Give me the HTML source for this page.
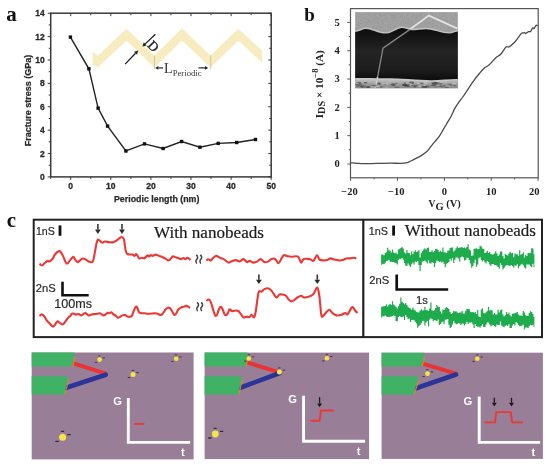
<!DOCTYPE html>
<html><head><meta charset="utf-8"><title>Figure</title>
<style>html,body{margin:0;padding:0;background:#fff;}svg{display:block;will-change:transform;filter:blur(0.4px);}</style></head>
<body><svg width="550" height="465" viewBox="0 0 550 465">
<defs>
<linearGradient id="bt" x1="0" y1="0" x2="0" y2="1"><stop offset="0" stop-color="#c4c4c4"/><stop offset="0.35" stop-color="#b0b0b0"/><stop offset="0.6" stop-color="#999"/><stop offset="1" stop-color="#8a8a8a"/></linearGradient>
<linearGradient id="dk" x1="0" y1="0" x2="0" y2="1"><stop offset="0" stop-color="#0c0c0c"/><stop offset="0.45" stop-color="#242424"/><stop offset="0.8" stop-color="#1c1c1c"/><stop offset="1" stop-color="#0a0a0a"/></linearGradient>
<filter id="noise" x="0" y="0" width="1" height="1"><feTurbulence type="fractalNoise" baseFrequency="1.6" numOctaves="1" seed="3"/><feColorMatrix type="saturate" values="0"/><feComponentTransfer><feFuncA type="linear" slope="0" intercept="1"/></feComponentTransfer></filter>
<filter id="noise2" x="0" y="0" width="1" height="1"><feTurbulence type="fractalNoise" baseFrequency="0.25 0.6" numOctaves="2" seed="5"/><feColorMatrix type="saturate" values="0"/><feComponentTransfer><feFuncR type="linear" slope="2.2" intercept="-0.7"/><feFuncG type="linear" slope="2.2" intercept="-0.7"/><feFuncB type="linear" slope="2.2" intercept="-0.7"/><feFuncA type="linear" slope="0" intercept="1"/></feComponentTransfer></filter>
</defs>
<rect width="550" height="465" fill="#fff"/>
<text x="6.3" y="21" font-family="'Liberation Serif', serif" font-weight="bold" font-size="21" fill="#111">a</text>
<polygon points="92.6,51.8 98,55.5 126.5,28.4 154.5,55.6 182,28.2 210.5,55.6 238.3,28.4 262.2,50.8 262.2,62.8 238.3,40.8 210.5,67.6 182,40.6 154.5,67.6 126.5,40.8 98,67.2 92.6,64.9" fill="#f7ecc0"/>
<line x1="154.5" y1="55.5" x2="154.5" y2="69.5" stroke="#b8ad8a" stroke-width="0.6"/>
<line x1="210.7" y1="55.5" x2="210.7" y2="69.5" stroke="#b8ad8a" stroke-width="0.6"/>
<rect x="50.7" y="13.2" width="220.5" height="163.70000000000002" fill="none" stroke="#3a3a3a" stroke-width="1.5"/>
<path d="M47.7,176.90H50.7M268.2,176.90H271.2M48.7,165.21H50.7M269.2,165.21H271.2M47.7,153.52H50.7M268.2,153.52H271.2M48.7,141.83H50.7M269.2,141.83H271.2M47.7,130.14H50.7M268.2,130.14H271.2M48.7,118.45H50.7M269.2,118.45H271.2M47.7,106.76H50.7M268.2,106.76H271.2M48.7,95.07H50.7M269.2,95.07H271.2M47.7,83.38H50.7M268.2,83.38H271.2M48.7,71.69H50.7M269.2,71.69H271.2M47.7,60.00H50.7M268.2,60.00H271.2M48.7,48.31H50.7M269.2,48.31H271.2M47.7,36.62H50.7M268.2,36.62H271.2M48.7,24.93H50.7M269.2,24.93H271.2M47.7,13.24H50.7M268.2,13.24H271.2M50.65,176.9V178.9M50.65,13.2V15.2M70.70,176.9V179.9M70.70,13.2V16.2M90.75,176.9V178.9M90.75,13.2V15.2M110.80,176.9V179.9M110.80,13.2V16.2M130.85,176.9V178.9M130.85,13.2V15.2M150.90,176.9V179.9M150.90,13.2V16.2M170.95,176.9V178.9M170.95,13.2V15.2M191.00,176.9V179.9M191.00,13.2V16.2M211.05,176.9V178.9M211.05,13.2V15.2M231.10,176.9V179.9M231.10,13.2V16.2M251.15,176.9V178.9M251.15,13.2V15.2M271.20,176.9V179.9M271.20,13.2V16.2" stroke="#3a3a3a" stroke-width="1"/>
<text x="44.8" y="180.00" text-anchor="end" font-family="'Liberation Sans', sans-serif" font-weight="bold" font-size="8.5" fill="#2a2a2a" stroke="#2a2a2a" stroke-width="0.3">0</text>
<text x="44.8" y="156.62" text-anchor="end" font-family="'Liberation Sans', sans-serif" font-weight="bold" font-size="8.5" fill="#2a2a2a" stroke="#2a2a2a" stroke-width="0.3">2</text>
<text x="44.8" y="133.24" text-anchor="end" font-family="'Liberation Sans', sans-serif" font-weight="bold" font-size="8.5" fill="#2a2a2a" stroke="#2a2a2a" stroke-width="0.3">4</text>
<text x="44.8" y="109.86" text-anchor="end" font-family="'Liberation Sans', sans-serif" font-weight="bold" font-size="8.5" fill="#2a2a2a" stroke="#2a2a2a" stroke-width="0.3">6</text>
<text x="44.8" y="86.48" text-anchor="end" font-family="'Liberation Sans', sans-serif" font-weight="bold" font-size="8.5" fill="#2a2a2a" stroke="#2a2a2a" stroke-width="0.3">8</text>
<text x="44.8" y="63.10" text-anchor="end" font-family="'Liberation Sans', sans-serif" font-weight="bold" font-size="8.5" fill="#2a2a2a" stroke="#2a2a2a" stroke-width="0.3">10</text>
<text x="44.8" y="39.72" text-anchor="end" font-family="'Liberation Sans', sans-serif" font-weight="bold" font-size="8.5" fill="#2a2a2a" stroke="#2a2a2a" stroke-width="0.3">12</text>
<text x="44.8" y="16.34" text-anchor="end" font-family="'Liberation Sans', sans-serif" font-weight="bold" font-size="8.5" fill="#2a2a2a" stroke="#2a2a2a" stroke-width="0.3">14</text>
<text x="70.70" y="189.2" text-anchor="middle" font-family="'Liberation Sans', sans-serif" font-weight="bold" font-size="8.5" fill="#2a2a2a" stroke="#2a2a2a" stroke-width="0.3">0</text>
<text x="110.80" y="189.2" text-anchor="middle" font-family="'Liberation Sans', sans-serif" font-weight="bold" font-size="8.5" fill="#2a2a2a" stroke="#2a2a2a" stroke-width="0.3">10</text>
<text x="150.90" y="189.2" text-anchor="middle" font-family="'Liberation Sans', sans-serif" font-weight="bold" font-size="8.5" fill="#2a2a2a" stroke="#2a2a2a" stroke-width="0.3">20</text>
<text x="191.00" y="189.2" text-anchor="middle" font-family="'Liberation Sans', sans-serif" font-weight="bold" font-size="8.5" fill="#2a2a2a" stroke="#2a2a2a" stroke-width="0.3">30</text>
<text x="231.10" y="189.2" text-anchor="middle" font-family="'Liberation Sans', sans-serif" font-weight="bold" font-size="8.5" fill="#2a2a2a" stroke="#2a2a2a" stroke-width="0.3">40</text>
<text x="271.20" y="189.2" text-anchor="middle" font-family="'Liberation Sans', sans-serif" font-weight="bold" font-size="8.5" fill="#2a2a2a" stroke="#2a2a2a" stroke-width="0.3">50</text>
<text x="156.7" y="201.7" text-anchor="middle" font-family="'Liberation Sans', sans-serif" font-weight="bold" font-size="8.85" fill="#2a2a2a" stroke="#2a2a2a" stroke-width="0.25">Periodic length (nm)</text>
<text transform="translate(31.2,100.6) rotate(-90)" text-anchor="middle" font-family="'Liberation Sans', sans-serif" font-weight="bold" font-size="9" fill="#2a2a2a" stroke="#2a2a2a" stroke-width="0.25">Fracture stress (GPa)</text>
<polyline points="70.4,37.1 88.9,68.8 98.1,108.1 107.6,126.1 125.9,151.0 144.5,143.9 163.1,148.5 181.6,141.5 199.9,147.2 218.2,143.4 236.7,142.5 255.5,139.5" fill="none" stroke="#222" stroke-width="1.4"/>
<rect x="68.70" y="35.40" width="3.4" height="3.4" fill="#111"/>
<rect x="87.20" y="67.10" width="3.4" height="3.4" fill="#111"/>
<rect x="96.40" y="106.40" width="3.4" height="3.4" fill="#111"/>
<rect x="105.90" y="124.40" width="3.4" height="3.4" fill="#111"/>
<rect x="124.20" y="149.30" width="3.4" height="3.4" fill="#111"/>
<rect x="142.80" y="142.20" width="3.4" height="3.4" fill="#111"/>
<rect x="161.40" y="146.80" width="3.4" height="3.4" fill="#111"/>
<rect x="179.90" y="139.80" width="3.4" height="3.4" fill="#111"/>
<rect x="198.20" y="145.50" width="3.4" height="3.4" fill="#111"/>
<rect x="216.50" y="141.70" width="3.4" height="3.4" fill="#111"/>
<rect x="235.00" y="140.80" width="3.4" height="3.4" fill="#111"/>
<rect x="253.80" y="137.80" width="3.4" height="3.4" fill="#111"/>
<line x1="155.4" y1="34.2" x2="145.25" y2="43.88" stroke="#222" stroke-width="1.35"/><polygon points="142.5,46.5 143.80,42.36 146.70,45.40" fill="#222"/>
<line x1="125.1" y1="64.1" x2="135.55" y2="53.33" stroke="#222" stroke-width="1.35"/><polygon points="138.2,50.6 137.06,54.79 134.05,51.86" fill="#222"/>
<text transform="translate(153.3,46.2) rotate(45)" text-anchor="middle" dominant-baseline="central" font-family="'Liberation Serif', serif" font-size="13.5" fill="#222" stroke="#222" stroke-width="0.35">D</text>
<line x1="163" y1="67.9" x2="158.40" y2="67.90" stroke="#222" stroke-width="1.2"/><polygon points="155.2,67.9 158.40,66.10 158.40,69.70" fill="#222"/>
<line x1="198.5" y1="67.9" x2="205.00" y2="67.90" stroke="#222" stroke-width="1.2"/><polygon points="208.2,67.9 205.00,69.70 205.00,66.10" fill="#222"/>
<text x="164.0" y="72.6" font-family="'Liberation Serif', serif" font-size="14.2" fill="#333">L<tspan font-size="8.7" dy="3.1">Periodic</tspan></text>
<text x="304.3" y="21.3" font-family="'Liberation Serif', serif" font-weight="bold" font-size="19" fill="#111">b</text>
<rect x="350.5" y="8.6" width="187.70000000000005" height="169.20000000000002" fill="none" stroke="#555" stroke-width="1.2"/>
<path d="M347.3,164.00H350.5M348.7,149.84H350.5M347.3,135.68H350.5M348.7,121.52H350.5M347.3,107.36H350.5M348.7,93.20H350.5M347.3,79.04H350.5M348.7,64.88H350.5M347.3,50.72H350.5M348.7,36.56H350.5M347.3,22.40H350.5M350.60,177.8V180.8M374.04,177.8V179.4M397.48,177.8V180.8M420.91,177.8V179.4M444.35,177.8V180.8M467.79,177.8V179.4M491.23,177.8V180.8M514.66,177.8V179.4M538.10,177.8V180.8" stroke="#555" stroke-width="1"/>
<text x="339.8" y="167.40" text-anchor="end" font-family="'Liberation Serif', serif" font-weight="bold" font-size="10.5" fill="#222">0</text>
<text x="339.8" y="139.08" text-anchor="end" font-family="'Liberation Serif', serif" font-weight="bold" font-size="10.5" fill="#222">1</text>
<text x="339.8" y="110.76" text-anchor="end" font-family="'Liberation Serif', serif" font-weight="bold" font-size="10.5" fill="#222">2</text>
<text x="339.8" y="82.44" text-anchor="end" font-family="'Liberation Serif', serif" font-weight="bold" font-size="10.5" fill="#222">3</text>
<text x="339.8" y="54.12" text-anchor="end" font-family="'Liberation Serif', serif" font-weight="bold" font-size="10.5" fill="#222">4</text>
<text x="339.8" y="25.80" text-anchor="end" font-family="'Liberation Serif', serif" font-weight="bold" font-size="10.5" fill="#222">5</text>
<text x="349.40" y="194.6" text-anchor="middle" font-family="'Liberation Serif', serif" font-weight="bold" font-size="10.5" fill="#222">−20</text>
<text x="396.28" y="194.6" text-anchor="middle" font-family="'Liberation Serif', serif" font-weight="bold" font-size="10.5" fill="#222">−10</text>
<text x="444.35" y="194.6" text-anchor="middle" font-family="'Liberation Serif', serif" font-weight="bold" font-size="10.5" fill="#222">0</text>
<text x="491.23" y="194.6" text-anchor="middle" font-family="'Liberation Serif', serif" font-weight="bold" font-size="10.5" fill="#222">10</text>
<text x="534.20" y="194.6" text-anchor="middle" font-family="'Liberation Serif', serif" font-weight="bold" font-size="10.5" fill="#222">20</text>
<text x="428.5" y="206.8" font-family="'Liberation Serif', serif" font-weight="bold" font-size="9.5" fill="#222">V<tspan font-size="10.5" dy="3.5">G</tspan><tspan dy="-3.5" font-size="10.5"> (V)</tspan></text>
<text transform="translate(322.8,118.3) rotate(-90)" font-family="'Liberation Serif', serif" font-weight="bold" font-size="11.2" fill="#222">I<tspan font-size="10.2" dy="2">DS</tspan><tspan dy="-2" font-size="11.2"> × 10</tspan><tspan font-size="8.6" dy="-4.6">−8</tspan><tspan dy="4.6" font-size="11.2"> (A)</tspan></text>
<g>
<clipPath id="insclip"><rect x="355.2" y="12.1" width="102.6" height="76.1"/></clipPath>
<clipPath id="topclip"><path d="M355.2,31.4 C360,30.5 362,28.3 366.3,28.3 C372,28.3 378,32.9 385.6,32.9 C392,32.9 396,27.3 401.9,27.3 C406,27.3 408,29.6 412,29.6 C417,29.6 421,28.5 426.2,28.5 C434,28.5 441,32.9 449,32.9 C453,32.9 455,30.7 457.8,30.7 L457.8,12.1 L355.2,12.1 Z"/></clipPath>
<rect x="355.2" y="12.1" width="102.6" height="76.1" fill="#989898"/>
<rect x="355.2" y="12.1" width="102.6" height="22" fill="#fff" filter="url(#noise)" opacity="0.22" clip-path="url(#topclip)"/>
<path d="M355.2,31.4 C360,30.5 362,28.3 366.3,28.3 C372,28.3 378,32.9 385.6,32.9 C392,32.9 396,27.3 401.9,27.3 C406,27.3 408,29.6 412,29.6 C417,29.6 421,28.5 426.2,28.5 C434,28.5 441,32.9 449,32.9 C453,32.9 455,30.7 457.8,30.7 L457.8,81 L355.2,81 Z" fill="url(#dk)"/>
<path d="M355.2,31.4 C360,30.5 362,28.3 366.3,28.3 C372,28.3 378,32.9 385.6,32.9 C392,32.9 396,27.3 401.9,27.3 C406,27.3 408,29.6 412,29.6 C417,29.6 421,28.5 426.2,28.5 C434,28.5 441,32.9 449,32.9 C453,32.9 455,30.7 457.8,30.7" fill="none" stroke="#c4c4c4" stroke-width="1.4"/>
<path d="M355.2,78.8 C365,78.3 375,79.4 390,79.0 C402,78.8 416,81.2 432,81.0 C442,80.8 450,79.6 457.8,79.8 L457.8,88.2 L355.2,88.2 Z" fill="url(#bt)"/>
<g clip-path="url(#insclip)"><ellipse cx="372.7" cy="85.9" rx="2.4" ry="0.9" fill="#3c3c3c" opacity="0.44"/><ellipse cx="436.1" cy="86.5" rx="2.1" ry="1.0" fill="#3c3c3c" opacity="0.44"/><ellipse cx="356.3" cy="84.4" rx="2.3" ry="0.6" fill="#3c3c3c" opacity="0.67"/><ellipse cx="379.5" cy="83.7" rx="1.1" ry="1.3" fill="#3c3c3c" opacity="0.65"/><ellipse cx="444.4" cy="85.6" rx="1.1" ry="0.8" fill="#3c3c3c" opacity="0.55"/><ellipse cx="367.7" cy="87.2" rx="1.8" ry="0.7" fill="#3c3c3c" opacity="0.68"/><ellipse cx="368.6" cy="87.1" rx="2.0" ry="1.0" fill="#3c3c3c" opacity="0.49"/><ellipse cx="405.0" cy="83.5" rx="1.1" ry="1.2" fill="#3c3c3c" opacity="0.44"/><ellipse cx="434.8" cy="83.6" rx="3.1" ry="1.2" fill="#3c3c3c" opacity="0.65"/><ellipse cx="433.0" cy="85.4" rx="2.6" ry="0.7" fill="#3c3c3c" opacity="0.54"/><ellipse cx="439.5" cy="83.6" rx="3.0" ry="1.2" fill="#3c3c3c" opacity="0.51"/><ellipse cx="392.9" cy="84.8" rx="1.8" ry="1.3" fill="#3c3c3c" opacity="0.50"/><ellipse cx="358.7" cy="83.0" rx="2.6" ry="1.3" fill="#3c3c3c" opacity="0.55"/><ellipse cx="405.6" cy="85.2" rx="2.6" ry="0.8" fill="#3c3c3c" opacity="0.59"/><ellipse cx="412.2" cy="85.6" rx="1.4" ry="0.7" fill="#3c3c3c" opacity="0.49"/><ellipse cx="449.6" cy="84.3" rx="2.3" ry="0.8" fill="#3c3c3c" opacity="0.39"/><ellipse cx="362.6" cy="86.5" rx="2.7" ry="0.9" fill="#3c3c3c" opacity="0.62"/><ellipse cx="424.3" cy="86.9" rx="3.1" ry="0.9" fill="#3c3c3c" opacity="0.75"/><ellipse cx="453.1" cy="85.4" rx="2.9" ry="0.9" fill="#3c3c3c" opacity="0.50"/><ellipse cx="381.0" cy="86.8" rx="1.4" ry="0.6" fill="#3c3c3c" opacity="0.67"/><ellipse cx="434.2" cy="84.9" rx="2.8" ry="0.6" fill="#3c3c3c" opacity="0.45"/><ellipse cx="385.3" cy="84.6" rx="1.4" ry="0.6" fill="#3c3c3c" opacity="0.49"/><ellipse cx="446.8" cy="87.3" rx="2.6" ry="0.9" fill="#3c3c3c" opacity="0.45"/><ellipse cx="452.8" cy="85.1" rx="2.6" ry="0.6" fill="#3c3c3c" opacity="0.43"/><ellipse cx="440.7" cy="86.4" rx="2.9" ry="1.0" fill="#3c3c3c" opacity="0.52"/><ellipse cx="414.7" cy="86.7" rx="1.7" ry="1.0" fill="#3c3c3c" opacity="0.46"/><ellipse cx="433.6" cy="82.6" rx="2.5" ry="1.3" fill="#3c3c3c" opacity="0.36"/><ellipse cx="416.0" cy="85.7" rx="2.9" ry="1.0" fill="#3c3c3c" opacity="0.45"/><ellipse cx="397.0" cy="87.2" rx="3.0" ry="0.7" fill="#3c3c3c" opacity="0.39"/><ellipse cx="365.5" cy="82.7" rx="2.0" ry="0.7" fill="#3c3c3c" opacity="0.70"/><ellipse cx="422.2" cy="83.2" rx="2.2" ry="0.8" fill="#3c3c3c" opacity="0.55"/><ellipse cx="378.2" cy="83.4" rx="1.4" ry="0.9" fill="#3c3c3c" opacity="0.63"/><ellipse cx="411.6" cy="82.8" rx="2.6" ry="1.2" fill="#3c3c3c" opacity="0.66"/><ellipse cx="435.9" cy="82.6" rx="2.0" ry="0.6" fill="#3c3c3c" opacity="0.66"/><ellipse cx="373.7" cy="86.0" rx="1.6" ry="1.1" fill="#3c3c3c" opacity="0.48"/><ellipse cx="360.2" cy="84.5" rx="1.7" ry="1.2" fill="#3c3c3c" opacity="0.47"/><ellipse cx="406.8" cy="85.2" rx="3.1" ry="0.7" fill="#3c3c3c" opacity="0.59"/><ellipse cx="407.3" cy="86.1" rx="3.1" ry="0.8" fill="#3c3c3c" opacity="0.63"/><ellipse cx="409.1" cy="85.3" rx="1.1" ry="1.2" fill="#3c3c3c" opacity="0.74"/><ellipse cx="391.9" cy="84.1" rx="3.2" ry="0.7" fill="#3c3c3c" opacity="0.38"/><ellipse cx="363.4" cy="86.5" rx="2.7" ry="0.9" fill="#3c3c3c" opacity="0.60"/><ellipse cx="358.0" cy="85.7" rx="2.0" ry="1.0" fill="#3c3c3c" opacity="0.51"/><ellipse cx="396.6" cy="83.7" rx="1.1" ry="0.9" fill="#3c3c3c" opacity="0.45"/><ellipse cx="427.1" cy="86.5" rx="2.6" ry="0.9" fill="#3c3c3c" opacity="0.44"/><ellipse cx="394.9" cy="84.9" rx="2.4" ry="1.3" fill="#3c3c3c" opacity="0.38"/><ellipse cx="404.5" cy="85.0" rx="2.6" ry="1.2" fill="#3c3c3c" opacity="0.66"/><ellipse cx="419.3" cy="86.1" rx="2.0" ry="0.9" fill="#d0d0d0" opacity="0.51"/><ellipse cx="425.0" cy="83.0" rx="2.4" ry="0.7" fill="#d0d0d0" opacity="0.48"/><ellipse cx="439.3" cy="87.3" rx="2.5" ry="0.5" fill="#d0d0d0" opacity="0.39"/><ellipse cx="387.5" cy="83.8" rx="1.2" ry="0.8" fill="#d0d0d0" opacity="0.32"/><ellipse cx="386.6" cy="87.2" rx="2.1" ry="0.7" fill="#d0d0d0" opacity="0.33"/><ellipse cx="452.6" cy="85.7" rx="1.3" ry="0.7" fill="#d0d0d0" opacity="0.49"/><ellipse cx="424.8" cy="83.1" rx="2.4" ry="0.7" fill="#d0d0d0" opacity="0.38"/><ellipse cx="441.4" cy="82.4" rx="2.0" ry="0.6" fill="#d0d0d0" opacity="0.48"/><ellipse cx="384.0" cy="83.8" rx="2.4" ry="0.7" fill="#d0d0d0" opacity="0.43"/><ellipse cx="418.3" cy="83.2" rx="1.3" ry="0.7" fill="#d0d0d0" opacity="0.38"/><ellipse cx="375.0" cy="87.3" rx="1.1" ry="0.9" fill="#d0d0d0" opacity="0.58"/><ellipse cx="427.2" cy="81.6" rx="1.8" ry="0.5" fill="#d0d0d0" opacity="0.48"/><ellipse cx="426.7" cy="82.9" rx="1.0" ry="0.8" fill="#d0d0d0" opacity="0.33"/><ellipse cx="387.2" cy="84.2" rx="2.3" ry="0.7" fill="#d0d0d0" opacity="0.34"/><ellipse cx="436.0" cy="86.4" rx="1.8" ry="0.5" fill="#d0d0d0" opacity="0.36"/><ellipse cx="396.7" cy="84.8" rx="1.3" ry="0.9" fill="#d0d0d0" opacity="0.55"/><ellipse cx="449.4" cy="86.8" rx="1.0" ry="0.8" fill="#d0d0d0" opacity="0.32"/><ellipse cx="446.9" cy="86.0" rx="2.1" ry="0.6" fill="#d0d0d0" opacity="0.32"/><ellipse cx="438.3" cy="85.1" rx="1.9" ry="0.7" fill="#d0d0d0" opacity="0.54"/><ellipse cx="390.1" cy="83.1" rx="1.5" ry="0.6" fill="#d0d0d0" opacity="0.49"/><ellipse cx="445.9" cy="81.9" rx="1.1" ry="0.8" fill="#d0d0d0" opacity="0.50"/><ellipse cx="375.2" cy="83.1" rx="1.1" ry="0.5" fill="#d0d0d0" opacity="0.45"/><ellipse cx="424.8" cy="85.4" rx="1.2" ry="0.6" fill="#d0d0d0" opacity="0.58"/><ellipse cx="410.4" cy="84.0" rx="2.0" ry="0.9" fill="#d0d0d0" opacity="0.46"/><ellipse cx="363.9" cy="86.5" rx="1.3" ry="0.5" fill="#d0d0d0" opacity="0.41"/><ellipse cx="409.8" cy="85.3" rx="1.3" ry="0.9" fill="#d0d0d0" opacity="0.45"/><ellipse cx="372.4" cy="86.6" rx="2.2" ry="1.0" fill="#d0d0d0" opacity="0.50"/><ellipse cx="377.9" cy="86.2" rx="2.4" ry="0.8" fill="#d0d0d0" opacity="0.57"/><ellipse cx="454.0" cy="83.8" rx="2.4" ry="1.0" fill="#d0d0d0" opacity="0.54"/><ellipse cx="357.1" cy="83.6" rx="1.9" ry="0.8" fill="#d0d0d0" opacity="0.53"/></g>
<path d="M355.2,78.8 C365,78.3 375,79.4 390,79.0 C402,78.8 416,81.2 432,81.0 C442,80.8 450,79.6 457.8,79.8" fill="none" stroke="#c6c6c6" stroke-width="1.6"/>
<polyline points="375.9,86 383,48.2 410.4,29.1 428.9,15.6 457.6,28.6" fill="none" stroke="#868686" stroke-width="1.3"/>
<polyline points="375.9,86 383,48.2 410.4,29.1 428.9,15.6 457.6,28.6" fill="none" stroke="#e2e2e2" stroke-width="1.8" clip-path="url(#topclip)"/>
<line x1="376.2" y1="84.5" x2="377.6" y2="77" stroke="#cfcfcf" stroke-width="1.6"/>
</g>
<path d="M350.6,162.8C351.67,162.88 354.77,163.15 357,163.3C359.23,163.45 360.67,163.68 364,163.7C367.33,163.72 372.67,163.48 377,163.4C381.33,163.32 385.50,163.23 390,163.2C394.50,163.17 400.83,163.42 404,163.2C407.17,162.98 407.40,162.50 409,161.9C410.60,161.30 411.68,160.57 413.6,159.6C415.52,158.63 418.35,157.40 420.5,156.1C422.65,154.80 424.78,153.38 426.5,151.8C428.22,150.22 429.37,148.35 430.8,146.6C432.23,144.85 433.67,143.05 435.1,141.3C436.53,139.55 438.12,137.93 439.4,136.1C440.68,134.27 441.57,132.38 442.8,130.3C444.03,128.22 445.43,125.90 446.8,123.6C448.17,121.30 449.68,119.00 451,116.5C452.32,114.00 453.45,110.92 454.7,108.6C455.95,106.28 457.17,104.53 458.5,102.6C459.83,100.67 460.92,99.53 462.7,97.0C464.48,94.47 467.32,90.18 469.2,87.4C471.08,84.62 472.30,82.62 474,80.3C475.70,77.98 477.72,75.50 479.4,73.5C481.08,71.50 482.57,69.67 484.1,68.3C485.63,66.93 487.33,66.32 488.6,65.3C489.87,64.28 490.50,63.47 491.7,62.2C492.90,60.93 494.27,59.07 495.8,57.7C497.33,56.33 499.20,55.80 500.9,54C502.60,52.20 504.65,48.08 506,46.9C507.35,45.72 507.65,47.58 509,46.9C510.35,46.22 512.57,44.33 514.1,42.8C515.63,41.27 517.00,39.23 518.2,37.7C519.40,36.17 520.27,34.45 521.3,33.6C522.33,32.75 523.65,32.60 524.4,32.6C525.15,32.60 525.12,33.77 525.8,33.6C526.48,33.43 527.72,31.93 528.5,31.6C529.28,31.27 529.83,32.22 530.5,31.6C531.17,30.98 531.92,28.42 532.5,27.9C533.08,27.38 533.42,28.92 534,28.5C534.58,28.08 535.40,25.85 536,25.4C536.60,24.95 537.33,25.73 537.6,25.8" fill="none" stroke="#4a4a4a" stroke-width="1.3"/>
<text x="6.8" y="226.8" font-family="'Liberation Serif', serif" font-weight="bold" font-size="21" fill="#111">c</text>
<rect x="33.7" y="219.7" width="508.3" height="117.4" fill="none" stroke="#222" stroke-width="2"/>
<line x1="363.3" y1="219.7" x2="363.3" y2="337.1" stroke="#222" stroke-width="2.2"/>
<text x="154.0" y="237.6" font-family="'Liberation Serif', serif" font-size="17.1" fill="#1a1a1a" stroke="#1a1a1a" stroke-width="0.2">With nanobeads</text>
<text x="404.8" y="235.7" font-family="'Liberation Serif', serif" font-size="17.0" fill="#1a1a1a" stroke="#1a1a1a" stroke-width="0.2">Without nanobeads</text>
<text x="35.9" y="234.9" font-family="'Liberation Sans', sans-serif" font-size="10.6" fill="#2a2a2a" stroke="#2a2a2a" stroke-width="0.2">1nS</text>
<rect x="58.6" y="225.4" width="2.8" height="10.4" fill="#111"/>
<text x="35.7" y="292.4" font-family="'Liberation Sans', sans-serif" font-size="11.2" fill="#2a2a2a" stroke="#2a2a2a" stroke-width="0.2">2nS</text>
<path d="M62.5,281.8 V295.3 H88.7" fill="none" stroke="#111" stroke-width="2.6"/>
<text x="54.2" y="308.2" font-family="'Liberation Sans', sans-serif" font-size="12.6" fill="#2a2a2a" stroke="#2a2a2a" stroke-width="0.2">100ms</text>
<text x="368.7" y="235.2" font-family="'Liberation Sans', sans-serif" font-size="10.8" fill="#2a2a2a" stroke="#2a2a2a" stroke-width="0.2">1nS</text>
<rect x="392.2" y="225.6" width="2.8" height="10" fill="#111"/>
<text x="369.3" y="284.3" font-family="'Liberation Sans', sans-serif" font-size="11.2" fill="#2a2a2a" stroke="#2a2a2a" stroke-width="0.2">2nS</text>
<path d="M396.7,274.4 V289.5 H448.2" fill="none" stroke="#111" stroke-width="2.7"/>
<text x="416.1" y="303.7" font-family="'Liberation Sans', sans-serif" font-size="11.2" fill="#2a2a2a" stroke="#2a2a2a" stroke-width="0.2">1s</text>
<path d="M39.5,263.6C39.90,263.92 40.98,265.65 41.9,265.5C42.82,265.35 44.03,263.47 45,262.7C45.97,261.93 46.95,261.10 47.7,260.9C48.45,260.70 48.73,261.80 49.5,261.5C50.27,261.20 51.38,260.27 52.3,259.1C53.22,257.93 53.95,255.80 55,254.5C56.05,253.20 57.68,251.75 58.6,251.3C59.52,250.85 59.73,250.95 60.5,251.8C61.27,252.65 62.30,254.58 63.2,256.4C64.10,258.22 65.15,261.55 65.9,262.7C66.65,263.85 67.10,263.60 67.7,263.3C68.30,263.00 68.58,261.97 69.5,260.9C70.42,259.83 72.22,257.05 73.2,256.9C74.18,256.75 74.65,259.12 75.4,260C76.15,260.88 77.02,262.05 77.7,262.2C78.38,262.35 78.68,261.52 79.5,260.9C80.32,260.28 81.53,258.72 82.6,258.5C83.67,258.28 84.75,259.05 85.9,259.6C87.05,260.15 88.35,261.48 89.5,261.8C90.65,262.12 91.95,262.87 92.8,261.5C93.65,260.13 93.98,256.58 94.6,253.6C95.22,250.62 95.98,245.93 96.5,243.6C97.02,241.27 97.20,240.13 97.7,239.6C98.20,239.07 98.73,239.88 99.5,240.4C100.27,240.92 101.38,242.52 102.3,242.7C103.22,242.88 103.80,241.58 105,241.5C106.20,241.42 108.13,242.08 109.5,242.2C110.87,242.32 111.98,242.50 113.2,242.2C114.42,241.90 115.58,241.22 116.8,240.4C118.02,239.58 119.58,237.82 120.5,237.3C121.42,236.78 121.70,236.85 122.3,237.3C122.90,237.75 123.58,238.03 124.1,240C124.62,241.97 124.95,246.83 125.4,249.1C125.85,251.37 126.12,252.70 126.8,253.6C127.48,254.50 128.52,254.33 129.5,254.5C130.48,254.67 131.87,254.37 132.7,254.6C133.53,254.83 133.88,255.98 134.5,255.9C135.12,255.82 135.63,253.70 136.4,254.1C137.17,254.50 138.20,257.70 139.1,258.3C140.00,258.90 140.90,257.70 141.8,257.7C142.70,257.70 143.58,258.68 144.5,258.3C145.42,257.92 146.53,255.70 147.3,255.4C148.07,255.10 148.50,256.57 149.1,256.5C149.70,256.43 150.30,255.10 150.9,255C151.50,254.90 151.93,255.97 152.7,255.9C153.47,255.83 154.43,254.60 155.5,254.6C156.57,254.60 157.90,255.47 159.1,255.9C160.30,256.33 161.63,256.75 162.7,257.2C163.77,257.65 164.58,258.05 165.5,258.6C166.42,259.15 167.45,260.35 168.2,260.5C168.95,260.65 169.25,260.17 170,259.5C170.75,258.83 171.78,256.88 172.7,256.5C173.62,256.12 174.58,256.93 175.5,257.2C176.42,257.47 177.30,257.80 178.2,258.1C179.10,258.40 180.00,259.00 180.9,259C181.80,259.00 182.83,258.07 183.6,258.1C184.37,258.13 184.88,259.27 185.5,259.2C186.12,259.13 186.70,257.80 187.3,257.7C187.90,257.60 188.58,258.20 189.1,258.6C189.62,259.00 190.18,259.85 190.4,260.1" fill="none" stroke="#eb3835" stroke-width="2.1" stroke-linejoin="round"/>
<path d="M206.4,260.5C206.70,260.28 207.45,259.20 208.2,259.2C208.95,259.20 210.15,260.65 210.9,260.5C211.65,260.35 212.10,258.92 212.7,258.3C213.30,257.68 213.88,257.20 214.5,256.8C215.12,256.40 215.63,255.83 216.4,255.9C217.17,255.97 218.35,256.80 219.1,257.2C219.85,257.60 220.30,258.07 220.9,258.3C221.50,258.53 222.02,258.30 222.7,258.6C223.38,258.90 224.00,259.43 225,260.1C226.00,260.77 227.47,262.47 228.7,262.6C229.93,262.73 231.18,261.32 232.4,260.9C233.62,260.48 234.78,260.02 236,260.1C237.22,260.18 238.47,261.57 239.7,261.4C240.93,261.23 242.17,258.98 243.4,259.1C244.63,259.22 246.08,261.80 247.1,262.1C248.12,262.40 248.48,260.82 249.5,260.9C250.52,260.98 251.97,262.48 253.2,262.6C254.43,262.72 255.67,262.18 256.9,261.6C258.13,261.02 259.37,259.02 260.6,259.1C261.83,259.18 263.07,261.68 264.3,262.1C265.53,262.52 266.78,262.13 268,261.6C269.22,261.07 270.38,259.32 271.6,258.9C272.82,258.48 274.15,258.37 275.3,259.1C276.45,259.83 277.47,263.42 278.5,263.3C279.53,263.18 280.60,259.75 281.5,258.4C282.40,257.05 282.88,255.57 283.9,255.2C284.92,254.83 286.37,255.95 287.6,256.2C288.83,256.45 289.87,256.70 291.3,256.7C292.73,256.70 294.98,256.12 296.2,256.2C297.42,256.28 297.78,256.13 298.6,257.2C299.42,258.27 300.28,262.28 301.1,262.6C301.92,262.92 302.48,259.72 303.5,259.1C304.52,258.48 305.97,258.82 307.2,258.9C308.43,258.98 309.87,259.27 310.9,259.6C311.93,259.93 312.38,261.63 313.4,260.9C314.42,260.17 315.98,255.42 317,255.2C318.02,254.98 318.47,258.73 319.5,259.6C320.53,260.47 321.97,260.32 323.2,260.4C324.43,260.48 325.68,260.43 326.9,260.1C328.12,259.77 329.28,258.48 330.5,258.4C331.72,258.32 332.77,259.27 334.2,259.6C335.63,259.93 337.67,260.32 339.1,260.4C340.53,260.48 341.57,260.43 342.8,260.1C344.03,259.77 345.27,258.68 346.5,258.4C347.73,258.12 348.97,258.52 350.2,258.4C351.43,258.28 352.88,257.70 353.9,257.7C354.92,257.70 355.90,258.28 356.3,258.4" fill="none" stroke="#eb3835" stroke-width="2.1" stroke-linejoin="round"/>
<path d="M39.5,316C39.88,315.73 41.00,314.33 41.8,314.4C42.60,314.47 43.47,315.38 44.3,316.4C45.13,317.42 45.93,319.37 46.8,320.5C47.67,321.63 48.58,322.23 49.5,323.2C50.42,324.17 51.53,325.85 52.3,326.3C53.07,326.75 53.50,326.42 54.1,325.9C54.70,325.38 55.30,323.95 55.9,323.2C56.50,322.45 57.10,321.50 57.7,321.4C58.30,321.30 58.73,322.08 59.5,322.6C60.27,323.12 61.53,324.40 62.3,324.5C63.07,324.60 63.35,324.03 64.1,323.2C64.85,322.37 66.05,320.50 66.8,319.5C67.55,318.50 67.98,317.80 68.6,317.2C69.22,316.60 70.03,316.42 70.5,315.9C70.97,315.38 70.95,314.50 71.4,314.1C71.85,313.70 72.45,313.42 73.2,313.5C73.95,313.58 75.00,314.50 75.9,314.6C76.80,314.70 77.68,313.97 78.6,314.1C79.52,314.23 80.48,315.50 81.4,315.4C82.32,315.30 83.35,313.87 84.1,313.5C84.85,313.13 85.15,312.88 85.9,313.2C86.65,313.52 87.68,315.17 88.6,315.4C89.52,315.63 90.48,314.82 91.4,314.6C92.32,314.38 93.05,314.25 94.1,314.1C95.15,313.95 96.63,313.80 97.7,313.7C98.77,313.60 99.58,313.22 100.5,313.5C101.42,313.78 102.30,315.30 103.2,315.4C104.10,315.50 105.15,314.53 105.9,314.1C106.65,313.67 107.10,312.95 107.7,312.8C108.30,312.65 108.88,313.28 109.5,313.2C110.12,313.12 110.78,312.15 111.4,312.3C112.02,312.45 112.45,313.50 113.2,314.1C113.95,314.70 115.15,315.30 115.9,315.9C116.65,316.50 117.10,317.48 117.7,317.7C118.30,317.92 118.73,317.58 119.5,317.2C120.27,316.82 121.38,315.77 122.3,315.4C123.22,315.03 124.10,314.82 125,315C125.90,315.18 126.87,316.20 127.7,316.5C128.53,316.80 129.32,316.90 130,316.8C130.68,316.70 131.20,316.80 131.8,315.9C132.40,315.00 132.93,312.92 133.6,311.4C134.27,309.88 135.18,307.42 135.8,306.8C136.42,306.18 136.75,306.78 137.3,307.7C137.85,308.62 138.35,311.38 139.1,312.3C139.85,313.22 140.90,313.05 141.8,313.2C142.70,313.35 143.58,313.12 144.5,313.2C145.42,313.28 146.38,313.62 147.3,313.7C148.22,313.78 149.10,313.73 150,313.7C150.90,313.67 151.78,313.58 152.7,313.5C153.62,313.42 154.58,313.10 155.5,313.2C156.42,313.30 157.37,313.80 158.2,314.1C159.03,314.40 159.75,315.07 160.5,315C161.25,314.93 161.87,314.62 162.7,313.7C163.53,312.78 164.58,310.50 165.5,309.5C166.42,308.50 167.38,307.85 168.2,307.7C169.02,307.55 169.65,307.83 170.4,308.6C171.15,309.37 172.02,311.23 172.7,312.3C173.38,313.37 173.88,314.85 174.5,315C175.12,315.15 175.78,314.12 176.4,313.2C177.02,312.28 177.45,310.42 178.2,309.5C178.95,308.58 180.00,308.15 180.9,307.7C181.80,307.25 182.68,307.10 183.6,306.8C184.52,306.50 185.58,305.90 186.4,305.9C187.22,305.90 187.90,306.43 188.5,306.8C189.10,307.17 189.75,307.88 190,308.1" fill="none" stroke="#eb3835" stroke-width="2.1" stroke-linejoin="round"/>
<path d="M206.4,301C206.70,300.75 207.60,299.58 208.2,299.5C208.80,299.42 209.40,299.58 210,300.5C210.60,301.42 211.20,303.18 211.8,305C212.40,306.82 212.98,309.58 213.6,311.4C214.22,313.22 214.88,315.45 215.5,315.9C216.12,316.35 216.70,315.32 217.3,314.1C217.90,312.88 218.50,309.82 219.1,308.6C219.70,307.38 220.30,306.65 220.9,306.8C221.50,306.95 222.10,308.28 222.7,309.5C223.30,310.72 223.88,313.18 224.5,314.1C225.12,315.02 225.78,315.30 226.4,315C227.02,314.70 227.70,313.25 228.2,312.3C228.70,311.35 228.70,309.48 229.4,309.3C230.10,309.12 231.30,311.00 232.4,311.2C233.50,311.40 234.98,310.50 236,310.5C237.02,310.50 237.67,310.58 238.5,311.2C239.33,311.82 240.18,313.17 241,314.2C241.82,315.23 242.38,317.00 243.4,317.4C244.42,317.80 246.08,316.65 247.1,316.6C248.12,316.55 248.77,317.42 249.5,317.1C250.23,316.78 250.75,314.65 251.5,314.7C252.25,314.75 253.30,317.90 254,317.4C254.70,316.90 255.13,314.68 255.7,311.7C256.27,308.72 256.87,302.85 257.4,299.5C257.93,296.15 258.17,292.92 258.9,291.6C259.63,290.28 260.90,292.02 261.8,291.6C262.70,291.18 263.15,289.63 264.3,289.1C265.45,288.57 267.48,288.10 268.7,288.4C269.92,288.70 270.70,289.88 271.6,290.9C272.50,291.92 273.28,293.40 274.1,294.5C274.92,295.60 275.60,297.50 276.5,297.5C277.40,297.50 278.47,295.00 279.5,294.5C280.53,294.00 281.63,294.28 282.7,294.5C283.77,294.72 284.97,295.05 285.9,295.8C286.83,296.55 287.40,298.07 288.3,299C289.20,299.93 290.18,301.32 291.3,301.4C292.42,301.48 293.98,300.15 295,299.5C296.02,298.85 296.38,298.12 297.4,297.5C298.42,296.88 300.00,295.80 301.1,295.8C302.20,295.80 302.98,297.30 304,297.5C305.02,297.70 306.05,297.28 307.2,297C308.35,296.72 309.78,296.42 310.9,295.8C312.02,295.18 313.00,294.53 313.9,293.3C314.80,292.07 315.65,289.22 316.3,288.4C316.95,287.58 317.27,286.97 317.8,288.4C318.33,289.83 318.93,292.70 319.5,297C320.07,301.30 320.67,310.93 321.2,314.2C321.73,317.47 321.97,316.80 322.7,316.6C323.43,316.40 324.50,314.13 325.6,313C326.70,311.87 328.07,309.68 329.3,309.8C330.53,309.92 331.77,312.77 333,313.7C334.23,314.63 335.27,315.23 336.7,315.4C338.13,315.57 340.17,315.10 341.6,314.7C343.03,314.30 344.28,313.08 345.3,313C346.32,312.92 346.68,315.03 347.7,314.2C348.72,313.37 350.50,309.15 351.4,308C352.30,306.85 352.48,306.88 353.1,307.3C353.72,307.72 354.37,309.55 355.1,310.5C355.83,311.45 357.10,312.58 357.5,313" fill="none" stroke="#eb3835" stroke-width="2.1" stroke-linejoin="round"/>
<path d="M196.20,254.90 C198.10,256.40 197.90,258.20 196.70,259.40 C195.50,260.60 195.70,262.40 196.90,263.50" fill="none" stroke="#454545" stroke-width="1.5"/><path d="M200.25,254.90 C202.15,256.40 201.95,258.20 200.75,259.40 C199.55,260.60 199.75,262.40 200.95,263.50" fill="none" stroke="#454545" stroke-width="1.5"/>
<path d="M197.10,302.40 C199.00,303.90 198.80,305.70 197.60,306.90 C196.40,308.10 196.60,309.90 197.80,311.00" fill="none" stroke="#454545" stroke-width="1.5"/><path d="M201.15,302.40 C203.05,303.90 202.85,305.70 201.65,306.90 C200.45,308.10 200.65,309.90 201.85,311.00" fill="none" stroke="#454545" stroke-width="1.5"/>
<line x1="97.9" y1="224" x2="97.90" y2="229.60" stroke="#2a2a2a" stroke-width="1.5"/><polygon points="97.9,233.9 95.00,229.60 100.80,229.60" fill="#2a2a2a"/>
<line x1="122" y1="224" x2="122.00" y2="229.60" stroke="#2a2a2a" stroke-width="1.5"/><polygon points="122,233.9 119.10,229.60 124.90,229.60" fill="#2a2a2a"/>
<line x1="258.9" y1="274.6" x2="258.90" y2="279.70" stroke="#2a2a2a" stroke-width="1.5"/><polygon points="258.9,284 256.00,279.70 261.80,279.70" fill="#2a2a2a"/>
<line x1="317.3" y1="274.6" x2="317.30" y2="279.70" stroke="#2a2a2a" stroke-width="1.5"/><polygon points="317.3,284 314.40,279.70 320.20,279.70" fill="#2a2a2a"/>
<polygon points="381.1,254.4 382.3,254.4 382.3,254.8 383.5,254.8 383.5,255.3 384.7,255.3 384.7,253.0 385.9,253.0 385.9,252.3 387.1,252.3 387.1,247.8 388.3,247.8 388.3,250.6 389.5,250.6 389.5,250.4 390.7,250.4 390.7,252.4 391.9,252.4 391.9,249.6 393.1,249.6 393.1,252.4 394.3,252.4 394.3,253.3 395.5,253.3 395.5,252.4 396.7,252.4 396.7,254.3 397.9,254.3 397.9,249.4 399.1,249.4 399.1,248.8 400.3,248.8 400.3,248.0 401.5,248.0 401.5,247.0 402.7,247.0 402.7,248.6 403.9,248.6 403.9,252.2 405.1,252.2 405.1,253.6 406.3,253.6 406.3,250.0 407.5,250.0 407.5,252.9 408.7,252.9 408.7,252.9 409.9,252.9 409.9,255.3 411.1,255.3 411.1,251.3 412.3,251.3 412.3,254.3 413.5,254.3 413.5,251.7 414.7,251.7 414.7,250.2 415.9,250.2 415.9,251.9 417.1,251.9 417.1,251.4 418.3,251.4 418.3,250.1 419.5,250.1 419.5,257.4 420.7,257.4 420.7,252.8 421.9,252.8 421.9,251.2 423.1,251.2 423.1,249.6 424.3,249.6 424.3,248.2 425.5,248.2 425.5,249.6 426.7,249.6 426.7,248.1 427.9,248.1 427.9,247.6 429.1,247.6 429.1,252.0 430.3,252.0 430.3,251.8 431.5,251.8 431.5,250.2 432.7,250.2 432.7,252.2 433.9,252.2 433.9,251.0 435.1,251.0 435.1,248.9 436.3,248.9 436.3,249.1 437.5,249.1 437.5,250.0 438.7,250.0 438.7,251.8 439.9,251.8 439.9,250.8 441.1,250.8 441.1,252.1 442.3,252.1 442.3,247.4 443.5,247.4 443.5,252.2 444.7,252.2 444.7,252.5 445.9,252.5 445.9,253.0 447.1,253.0 447.1,250.7 448.3,250.7 448.3,250.5 449.5,250.5 449.5,248.1 450.7,248.1 450.7,247.5 451.9,247.5 451.9,247.6 453.1,247.6 453.1,251.4 454.3,251.4 454.3,250.2 455.5,250.2 455.5,248.3 456.7,248.3 456.7,246.5 457.9,246.5 457.9,247.9 459.1,247.9 459.1,247.5 460.3,247.5 460.3,247.5 461.5,247.5 461.5,247.0 462.7,247.0 462.7,248.0 463.9,248.0 463.9,247.6 465.1,247.6 465.1,248.2 466.3,248.2 466.3,247.1 467.5,247.1 467.5,244.3 468.7,244.3 468.7,249.4 469.9,249.4 469.9,250.6 471.1,250.6 471.1,255.7 472.3,255.7 472.3,255.6 473.5,255.6 473.5,248.9 474.7,248.9 474.7,248.5 475.9,248.5 475.9,248.2 477.1,248.2 477.1,249.3 478.3,249.3 478.3,249.1 479.5,249.1 479.5,245.8 480.7,245.8 480.7,246.5 481.9,246.5 481.9,248.5 483.1,248.5 483.1,249.1 484.3,249.1 484.3,253.0 485.5,253.0 485.5,252.6 486.7,252.6 486.7,250.7 487.9,250.7 487.9,252.9 489.1,252.9 489.1,252.1 490.3,252.1 490.3,254.0 491.5,254.0 491.5,254.5 492.7,254.5 492.7,254.4 493.9,254.4 493.9,253.6 495.1,253.6 495.1,251.2 496.3,251.2 496.3,253.4 497.5,253.4 497.5,256.0 498.7,256.0 498.7,254.4 499.9,254.4 499.9,251.4 501.1,251.4 501.1,251.6 502.3,251.6 502.3,256.1 503.5,256.1 503.5,258.4 504.7,258.4 504.7,253.8 505.9,253.8 505.9,255.0 507.1,255.0 507.1,255.5 508.3,255.5 508.3,253.6 509.5,253.6 509.5,251.8 510.7,251.8 510.7,253.2 511.9,253.2 511.9,253.0 513.1,253.0 513.1,257.3 514.3,257.3 514.3,253.6 515.5,253.6 515.5,254.4 516.7,254.4 516.7,254.2 517.9,254.2 517.9,255.8 519.1,255.8 519.1,250.2 520.3,250.2 520.3,254.8 521.5,254.8 521.5,253.9 522.7,253.9 522.7,252.2 523.9,252.2 523.9,257.5 525.1,257.5 525.1,254.8 526.3,254.8 526.3,255.9 527.5,255.9 527.5,253.0 528.7,253.0 528.7,253.3 529.9,253.3 529.9,252.8 531.1,252.8 531.1,248.2 532.3,248.2 532.3,248.5 533.5,248.5 533.5,254.2 534.4,254.2 534.4,267.3 533.5,267.3 533.5,263.7 532.3,263.7 532.3,267.3 531.1,267.3 531.1,265.9 529.9,265.9 529.9,264.4 528.7,264.4 528.7,264.4 527.5,264.4 527.5,264.6 526.3,264.6 526.3,268.4 525.1,268.4 525.1,267.5 523.9,267.5 523.9,265.3 522.7,265.3 522.7,263.8 521.5,263.8 521.5,264.8 520.3,264.8 520.3,266.0 519.1,266.0 519.1,268.3 517.9,268.3 517.9,264.3 516.7,264.3 516.7,266.1 515.5,266.1 515.5,265.2 514.3,265.2 514.3,267.7 513.1,267.7 513.1,266.1 511.9,266.1 511.9,265.0 510.7,265.0 510.7,266.0 509.5,266.0 509.5,265.6 508.3,265.6 508.3,265.3 507.1,265.3 507.1,265.3 505.9,265.3 505.9,266.2 504.7,266.2 504.7,268.0 503.5,268.0 503.5,269.4 502.3,269.4 502.3,265.1 501.1,265.1 501.1,263.3 499.9,263.3 499.9,268.8 498.7,268.8 498.7,267.0 497.5,267.0 497.5,265.7 496.3,265.7 496.3,264.9 495.1,264.9 495.1,264.9 493.9,264.9 493.9,263.9 492.7,263.9 492.7,263.9 491.5,263.9 491.5,265.9 490.3,265.9 490.3,264.4 489.1,264.4 489.1,262.0 487.9,262.0 487.9,261.1 486.7,261.1 486.7,263.4 485.5,263.4 485.5,262.3 484.3,262.3 484.3,260.3 483.1,260.3 483.1,261.6 481.9,261.6 481.9,260.1 480.7,260.1 480.7,257.2 479.5,257.2 479.5,258.2 478.3,258.2 478.3,264.4 477.1,264.4 477.1,266.8 475.9,266.8 475.9,259.7 474.7,259.7 474.7,262.7 473.5,262.7 473.5,266.0 472.3,266.0 472.3,267.8 471.1,267.8 471.1,263.6 469.9,263.6 469.9,260.0 468.7,260.0 468.7,258.0 467.5,258.0 467.5,257.8 466.3,257.8 466.3,260.0 465.1,260.0 465.1,260.4 463.9,260.4 463.9,257.3 462.7,257.3 462.7,256.6 461.5,256.6 461.5,257.2 460.3,257.2 460.3,261.7 459.1,261.7 459.1,258.4 457.9,258.4 457.9,257.6 456.7,257.6 456.7,257.5 455.5,257.5 455.5,259.7 454.3,259.7 454.3,263.1 453.1,263.1 453.1,257.9 451.9,257.9 451.9,260.8 450.7,260.8 450.7,258.8 449.5,258.8 449.5,261.9 448.3,261.9 448.3,263.0 447.1,263.0 447.1,263.8 445.9,263.8 445.9,267.2 444.7,267.2 444.7,263.7 443.5,263.7 443.5,261.7 442.3,261.7 442.3,262.4 441.1,262.4 441.1,261.5 439.9,261.5 439.9,262.1 438.7,262.1 438.7,261.0 437.5,261.0 437.5,260.4 436.3,260.4 436.3,263.0 435.1,263.0 435.1,267.1 433.9,267.1 433.9,263.1 432.7,263.1 432.7,261.9 431.5,261.9 431.5,263.8 430.3,263.8 430.3,263.3 429.1,263.3 429.1,260.2 427.9,260.2 427.9,263.4 426.7,263.4 426.7,261.7 425.5,261.7 425.5,260.4 424.3,260.4 424.3,261.1 423.1,261.1 423.1,261.4 421.9,261.4 421.9,264.9 420.7,264.9 420.7,271.2 419.5,271.2 419.5,265.0 418.3,265.0 418.3,261.0 417.1,261.0 417.1,262.0 415.9,262.0 415.9,261.6 414.7,261.6 414.7,264.5 413.5,264.5 413.5,262.6 412.3,262.6 412.3,264.3 411.1,264.3 411.1,267.0 409.9,267.0 409.9,265.6 408.7,265.6 408.7,263.4 407.5,263.4 407.5,266.0 406.3,266.0 406.3,265.4 405.1,265.4 405.1,262.9 403.9,262.9 403.9,259.8 402.7,259.8 402.7,258.1 401.5,258.1 401.5,259.3 400.3,259.3 400.3,258.8 399.1,258.8 399.1,259.8 397.9,259.8 397.9,264.6 396.7,264.6 396.7,263.2 395.5,263.2 395.5,262.8 394.3,262.8 394.3,261.9 393.1,261.9 393.1,261.9 391.9,261.9 391.9,261.7 390.7,261.7 390.7,261.7 389.5,261.7 389.5,259.7 388.3,259.7 388.3,260.8 387.1,260.8 387.1,261.3 385.9,261.3 385.9,262.7 384.7,262.7 384.7,264.3 383.5,264.3 383.5,263.8 382.3,263.8 382.3,264.8 381.1,264.8" fill="#1eab4c"/>
<polygon points="381.1,306.8 382.3,306.8 382.3,306.5 383.5,306.5 383.5,306.3 384.7,306.3 384.7,306.0 385.9,306.0 385.9,304.3 387.1,304.3 387.1,306.6 388.3,306.6 388.3,304.8 389.5,304.8 389.5,303.9 390.7,303.9 390.7,305.1 391.9,305.1 391.9,301.2 393.1,301.2 393.1,304.4 394.3,304.4 394.3,305.5 395.5,305.5 395.5,307.1 396.7,307.1 396.7,308.5 397.9,308.5 397.9,306.3 399.1,306.3 399.1,303.7 400.3,303.7 400.3,297.5 401.5,297.5 401.5,301.8 402.7,301.8 402.7,303.0 403.9,303.0 403.9,304.3 405.1,304.3 405.1,303.1 406.3,303.1 406.3,305.1 407.5,305.1 407.5,306.7 408.7,306.7 408.7,308.0 409.9,308.0 409.9,308.4 411.1,308.4 411.1,309.8 412.3,309.8 412.3,307.4 413.5,307.4 413.5,309.6 414.7,309.6 414.7,310.5 415.9,310.5 415.9,311.7 417.1,311.7 417.1,312.3 418.3,312.3 418.3,312.5 419.5,312.5 419.5,310.4 420.7,310.4 420.7,309.2 421.9,309.2 421.9,310.5 423.1,310.5 423.1,310.3 424.3,310.3 424.3,306.8 425.5,306.8 425.5,309.9 426.7,309.9 426.7,310.3 427.9,310.3 427.9,310.9 429.1,310.9 429.1,308.5 430.3,308.5 430.3,302.5 431.5,302.5 431.5,310.2 432.7,310.2 432.7,310.9 433.9,310.9 433.9,310.2 435.1,310.2 435.1,308.0 436.3,308.0 436.3,305.1 437.5,305.1 437.5,306.8 438.7,306.8 438.7,307.0 439.9,307.0 439.9,311.5 441.1,311.5 441.1,313.4 442.3,313.4 442.3,309.6 443.5,309.6 443.5,309.9 444.7,309.9 444.7,308.3 445.9,308.3 445.9,307.3 447.1,307.3 447.1,308.0 448.3,308.0 448.3,309.1 449.5,309.1 449.5,312.0 450.7,312.0 450.7,314.0 451.9,314.0 451.9,313.2 453.1,313.2 453.1,311.1 454.3,311.1 454.3,311.5 455.5,311.5 455.5,311.2 456.7,311.2 456.7,312.6 457.9,312.6 457.9,313.1 459.1,313.1 459.1,312.6 460.3,312.6 460.3,312.5 461.5,312.5 461.5,310.9 462.7,310.9 462.7,313.4 463.9,313.4 463.9,313.4 465.1,313.4 465.1,311.1 466.3,311.1 466.3,309.0 467.5,309.0 467.5,308.9 468.7,308.9 468.7,309.2 469.9,309.2 469.9,311.7 471.1,311.7 471.1,312.2 472.3,312.2 472.3,312.0 473.5,312.0 473.5,312.7 474.7,312.7 474.7,312.1 475.9,312.1 475.9,313.9 477.1,313.9 477.1,310.1 478.3,310.1 478.3,316.4 479.5,316.4 479.5,316.9 480.7,316.9 480.7,309.6 481.9,309.6 481.9,308.2 483.1,308.2 483.1,313.0 484.3,313.0 484.3,313.5 485.5,313.5 485.5,312.3 486.7,312.3 486.7,310.9 487.9,310.9 487.9,306.8 489.1,306.8 489.1,310.6 490.3,310.6 490.3,309.9 491.5,309.9 491.5,310.5 492.7,310.5 492.7,314.4 493.9,314.4 493.9,313.1 495.1,313.1 495.1,314.5 496.3,314.5 496.3,314.5 497.5,314.5 497.5,309.7 498.7,309.7 498.7,312.4 499.9,312.4 499.9,310.3 501.1,310.3 501.1,309.5 502.3,309.5 502.3,314.4 503.5,314.4 503.5,316.4 504.7,316.4 504.7,315.3 505.9,315.3 505.9,312.1 507.1,312.1 507.1,314.0 508.3,314.0 508.3,312.4 509.5,312.4 509.5,315.2 510.7,315.2 510.7,316.6 511.9,316.6 511.9,313.7 513.1,313.7 513.1,313.6 514.3,313.6 514.3,313.3 515.5,313.3 515.5,312.7 516.7,312.7 516.7,312.1 517.9,312.1 517.9,314.4 519.1,314.4 519.1,315.4 520.3,315.4 520.3,315.4 521.5,315.4 521.5,315.7 522.7,315.7 522.7,310.9 523.9,310.9 523.9,312.5 525.1,312.5 525.1,315.2 526.3,315.2 526.3,316.1 527.5,316.1 527.5,315.8 528.7,315.8 528.7,312.9 529.9,312.9 529.9,311.3 531.1,311.3 531.1,312.0 532.3,312.0 532.3,313.9 533.5,313.9 533.5,316.9 534.4,316.9 534.4,327.0 533.5,327.0 533.5,324.7 532.3,324.7 532.3,325.4 531.1,325.4 531.1,324.8 529.9,324.8 529.9,326.3 528.7,326.3 528.7,328.3 527.5,328.3 527.5,327.4 526.3,327.4 526.3,327.5 525.1,327.5 525.1,329.5 523.9,329.5 523.9,324.8 522.7,324.8 522.7,325.4 521.5,325.4 521.5,325.9 520.3,325.9 520.3,326.2 519.1,326.2 519.1,325.0 517.9,325.0 517.9,323.3 516.7,323.3 516.7,322.0 515.5,322.0 515.5,325.5 514.3,325.5 514.3,324.0 513.1,324.0 513.1,325.4 511.9,325.4 511.9,328.0 510.7,328.0 510.7,328.1 509.5,328.1 509.5,324.2 508.3,324.2 508.3,326.1 507.1,326.1 507.1,325.3 505.9,325.3 505.9,325.7 504.7,325.7 504.7,327.3 503.5,327.3 503.5,326.6 502.3,326.6 502.3,325.4 501.1,325.4 501.1,321.4 499.9,321.4 499.9,325.0 498.7,325.0 498.7,324.9 497.5,324.9 497.5,324.5 496.3,324.5 496.3,327.1 495.1,327.1 495.1,325.9 493.9,325.9 493.9,324.9 492.7,324.9 492.7,325.6 491.5,325.6 491.5,326.3 490.3,326.3 490.3,324.4 489.1,324.4 489.1,322.5 487.9,322.5 487.9,322.6 486.7,322.6 486.7,324.7 485.5,324.7 485.5,327.1 484.3,327.1 484.3,327.0 483.1,327.0 483.1,324.0 481.9,324.0 481.9,326.0 480.7,326.0 480.7,327.8 479.5,327.8 479.5,326.4 478.3,326.4 478.3,327.0 477.1,327.0 477.1,326.0 475.9,326.0 475.9,324.1 474.7,324.1 474.7,328.1 473.5,328.1 473.5,324.4 472.3,324.4 472.3,322.3 471.1,322.3 471.1,322.8 469.9,322.8 469.9,322.5 468.7,322.5 468.7,324.0 467.5,324.0 467.5,321.8 466.3,321.8 466.3,323.7 465.1,323.7 465.1,325.5 463.9,325.5 463.9,323.7 462.7,323.7 462.7,323.4 461.5,323.4 461.5,325.3 460.3,325.3 460.3,323.6 459.1,323.6 459.1,323.1 457.9,323.1 457.9,324.1 456.7,324.1 456.7,324.2 455.5,324.2 455.5,323.1 454.3,323.1 454.3,321.1 453.1,321.1 453.1,324.4 451.9,324.4 451.9,327.0 450.7,327.0 450.7,328.1 449.5,328.1 449.5,324.8 448.3,324.8 448.3,319.1 447.1,319.1 447.1,319.4 445.9,319.4 445.9,319.8 444.7,319.8 444.7,324.2 443.5,324.2 443.5,321.6 442.3,321.6 442.3,322.5 441.1,322.5 441.1,324.1 439.9,324.1 439.9,325.1 438.7,325.1 438.7,319.5 437.5,319.5 437.5,321.1 436.3,321.1 436.3,320.6 435.1,320.6 435.1,319.9 433.9,319.9 433.9,321.2 432.7,321.2 432.7,319.1 431.5,319.1 431.5,318.3 430.3,318.3 430.3,319.4 429.1,319.4 429.1,326.5 427.9,326.5 427.9,321.0 426.7,321.0 426.7,322.5 425.5,322.5 425.5,325.5 424.3,325.5 424.3,320.8 423.1,320.8 423.1,321.0 421.9,321.0 421.9,323.2 420.7,323.2 420.7,325.0 419.5,325.0 419.5,325.9 418.3,325.9 418.3,327.8 417.1,327.8 417.1,323.4 415.9,323.4 415.9,321.8 414.7,321.8 414.7,320.2 413.5,320.2 413.5,319.8 412.3,319.8 412.3,320.1 411.1,320.1 411.1,322.1 409.9,322.1 409.9,318.6 408.7,318.6 408.7,319.1 407.5,319.1 407.5,317.0 406.3,317.0 406.3,315.1 405.1,315.1 405.1,320.0 403.9,320.0 403.9,316.5 402.7,316.5 402.7,317.2 401.5,317.2 401.5,317.1 400.3,317.1 400.3,316.0 399.1,316.0 399.1,316.9 397.9,316.9 397.9,321.2 396.7,321.2 396.7,320.9 395.5,320.9 395.5,316.1 394.3,316.1 394.3,315.6 393.1,315.6 393.1,316.0 391.9,316.0 391.9,316.6 390.7,316.6 390.7,316.8 389.5,316.8 389.5,317.3 388.3,317.3 388.3,317.0 387.1,317.0 387.1,316.4 385.9,316.4 385.9,315.6 384.7,315.6 384.7,316.3 383.5,316.3 383.5,316.2 382.3,316.2 382.3,317.5 381.1,317.5" fill="#1eab4c"/>
<rect x="31.7" y="352.5" width="161.9" height="106.89999999999998" fill="#997e97"/><line x1="73.4" y1="363.4" x2="105.8" y2="373.6" stroke="#ea3434" stroke-width="4.0" stroke-linecap="round"/><line x1="65.4" y1="388.0" x2="105.8" y2="374.8" stroke="#2a3597" stroke-width="4.6" stroke-linecap="round"/><polygon points="31.7,352.5 74.5,352.5 72.2,366.5 31.7,366.5" fill="#40b266"/><polygon points="31.7,376.3 68.2,376.3 64.3,394.6 31.7,394.6" fill="#40b266"/><line x1="75.0" y1="356.5" x2="72.6" y2="366.3" stroke="#d98a2b" stroke-width="1.1"/><line x1="68.7" y1="380" x2="64.7" y2="394.4" stroke="#d98a2b" stroke-width="1.1"/><circle cx="99.6" cy="359.6" r="2.3" fill="#f4e64a"/><path d="M98.4,355.8h2.1M102.7,357.9h2.3M94.8,362.3h2.3" stroke="#3a2a3a" stroke-width="0.86"/><circle cx="176.2" cy="358.7" r="2.3" fill="#f4e64a"/><path d="M175.0,354.9h2.1M179.3,357.0h2.3M171.4,361.4h2.3" stroke="#3a2a3a" stroke-width="0.86"/><circle cx="133" cy="374.6" r="2.5" fill="#f4e64a"/><path d="M131.8,370.4h2.3M136.3,372.7h2.5M127.8,377.5h2.5" stroke="#3a2a3a" stroke-width="0.94"/><circle cx="62.6" cy="437.2" r="3.5" fill="#f4e64a"/><path d="M60.9,431.4h3.2M67.3,434.6h3.5M55.3,441.3h3.5" stroke="#3a2a3a" stroke-width="1.31"/><path d="M128.3,398.0 V442.4 H190.2" fill="none" stroke="#fff" stroke-width="2.9"/><text x="113.3" y="405.1" font-family="'Liberation Sans', sans-serif" font-weight="bold" font-size="11.2" fill="#fff">G</text><text x="180.9" y="456.3" font-family="'Liberation Sans', sans-serif" font-weight="bold" font-size="11.2" fill="#fff">t</text><line x1="134.1" y1="423.9" x2="144.3" y2="423.9" stroke="#eb3835" stroke-width="1.9"/>
<rect x="204.6" y="352.6" width="164.50000000000003" height="106.5" fill="#997e97"/><line x1="246.8" y1="362.4" x2="278.6" y2="372.1" stroke="#ea3434" stroke-width="4.0" stroke-linecap="round"/><line x1="239.4" y1="388.0" x2="279.8" y2="373.0" stroke="#2a3597" stroke-width="4.6" stroke-linecap="round"/><polygon points="204.6,352.6 247.5,352.6 245.8,366.5 204.6,366.5" fill="#40b266"/><polygon points="204.6,376.3 241.7,376.3 238.5,394.6 204.6,394.6" fill="#40b266"/><line x1="248.0" y1="356.6" x2="246.2" y2="366.3" stroke="#d98a2b" stroke-width="1.1"/><line x1="242.2" y1="380" x2="238.9" y2="394.4" stroke="#d98a2b" stroke-width="1.1"/><circle cx="248.8" cy="358.5" r="2.3" fill="#f4e64a"/><path d="M247.7,354.7h2.1M251.9,356.8h2.3M244.0,361.2h2.3" stroke="#3a2a3a" stroke-width="0.86"/><circle cx="279.4" cy="372.1" r="2.5" fill="#f4e64a"/><path d="M278.1,367.9h2.3M282.7,370.2h2.5M274.2,375.0h2.5" stroke="#3a2a3a" stroke-width="0.94"/><circle cx="326.9" cy="358.2" r="2.3" fill="#f4e64a"/><path d="M325.8,354.4h2.1M330.0,356.5h2.3M322.1,360.9h2.3" stroke="#3a2a3a" stroke-width="0.86"/><circle cx="215.3" cy="434" r="3.4" fill="#f4e64a"/><path d="M213.6,428.3h3.1M219.8,431.4h3.4M208.2,438.0h3.4" stroke="#3a2a3a" stroke-width="1.28"/><path d="M303.6,395.7 V441.2 H365.1" fill="none" stroke="#fff" stroke-width="2.9"/><text x="288.3" y="403.4" font-family="'Liberation Sans', sans-serif" font-weight="bold" font-size="11.2" fill="#fff">G</text><text x="356.8" y="454.9" font-family="'Liberation Sans', sans-serif" font-weight="bold" font-size="11.2" fill="#fff">t</text><polyline points="310.3,420.8 319.6,420.8 321.0,410.5 333.7,410.5" fill="none" stroke="#eb3835" stroke-width="1.9" stroke-linejoin="round"/><line x1="319.6" y1="397.2" x2="319.60" y2="403.40" stroke="#1a1a1a" stroke-width="1.3"/><polygon points="319.6,407.2 317.10,403.40 322.10,403.40" fill="#1a1a1a"/>
<rect x="381.6" y="352.7" width="161.29999999999995" height="106.19999999999999" fill="#997e97"/><line x1="423.4" y1="363.9" x2="456.1" y2="373.7" stroke="#ea3434" stroke-width="4.0" stroke-linecap="round"/><line x1="415.2" y1="388.5" x2="456.1" y2="374.5" stroke="#2a3597" stroke-width="4.6" stroke-linecap="round"/><polygon points="381.6,352.7 424.2,352.7 421.8,366.5 381.6,366.5" fill="#40b266"/><polygon points="381.6,376.3 418.5,376.3 413.6,394.6 381.6,394.6" fill="#40b266"/><line x1="424.7" y1="356.7" x2="422.2" y2="366.3" stroke="#d98a2b" stroke-width="1.1"/><line x1="419.0" y1="380" x2="414.0" y2="394.4" stroke="#d98a2b" stroke-width="1.1"/><circle cx="427.5" cy="373.7" r="2.4" fill="#f4e64a"/><path d="M426.3,369.7h2.2M430.7,371.9h2.4M422.5,376.5h2.4" stroke="#3a2a3a" stroke-width="0.90"/><circle cx="477.3" cy="358.7" r="2.3" fill="#f4e64a"/><path d="M476.2,354.9h2.1M480.4,357.0h2.3M472.5,361.4h2.3" stroke="#3a2a3a" stroke-width="0.86"/><path d="M479.2,396.5 V442.4 H540.1" fill="none" stroke="#fff" stroke-width="2.9"/><text x="463.6" y="404.6" font-family="'Liberation Sans', sans-serif" font-weight="bold" font-size="11.2" fill="#fff">G</text><text x="531.6" y="456.1" font-family="'Liberation Sans', sans-serif" font-weight="bold" font-size="11.2" fill="#fff">t</text><polyline points="484.5,422.4 495.0,422.4 496.2,412.1 510.8,412.1 512.1,422.4 522.9,422.4" fill="none" stroke="#eb3835" stroke-width="1.9" stroke-linejoin="round"/><line x1="494.3" y1="397.8" x2="494.30" y2="402.80" stroke="#1a1a1a" stroke-width="1.3"/><polygon points="494.3,406.6 491.80,402.80 496.80,402.80" fill="#1a1a1a"/><line x1="511.5" y1="397.8" x2="511.50" y2="402.80" stroke="#1a1a1a" stroke-width="1.3"/><polygon points="511.5,406.6 509.00,402.80 514.00,402.80" fill="#1a1a1a"/>
</svg></body></html>
